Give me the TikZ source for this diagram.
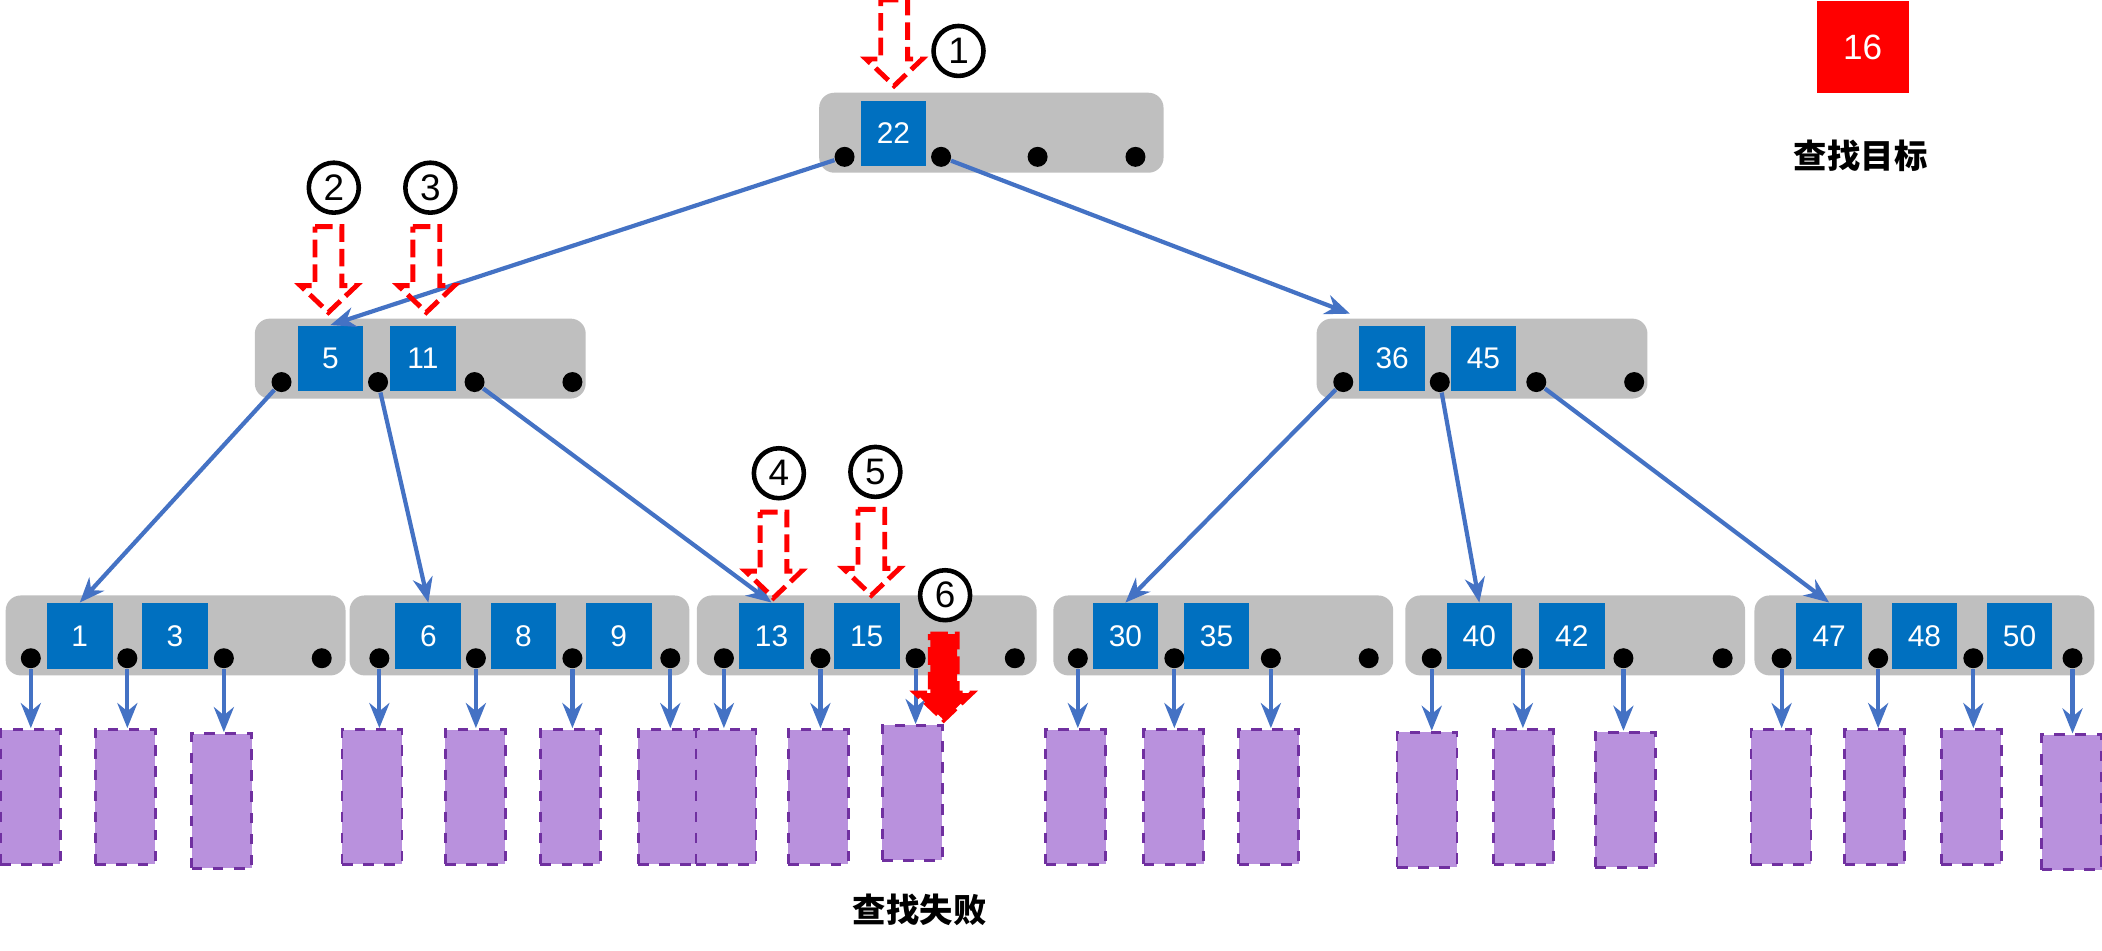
\documentclass[tikz,border=0pt]{standalone}
\usepackage{fontspec}
\setmainfont{Liberation Sans}
\newfontfamily\cjk{Noto Sans CJK SC}
\usetikzlibrary{arrows.meta}
\definecolor{keyblue}{HTML}{0070C0}
\definecolor{linkblue}{HTML}{4472C4}
\definecolor{pagegray}{HTML}{BFBFBF}
\definecolor{leafpurple}{HTML}{B991DD}
\definecolor{leafedge}{HTML}{7030A0}
\tikzset{
  page/.style={fill=pagegray, rounded corners=0.15cm, minimum width=#1, minimum height=0.8cm, inner sep=0pt},
  page/.default=3.4cm,
  key/.style={fill=keyblue, text=white, minimum size=0.657cm, inner sep=0pt, font=\fontsize{8.5}{9}\selectfont},
  dot/.style={circle, fill=black, minimum size=0.2cm, inner sep=0pt},
  leaf/.style={fill=leafpurple, draw=leafedge, dashed, line width=0.8pt, minimum width=0.6cm, minimum height=1.35cm, inner sep=0pt},
  link/.style={draw=linkblue, line width=1.2pt, -{Stealth[length=0.25cm,width=0.2cm]}},
  hollow/.style={draw=red, line width=1.4pt, dash pattern=on 5pt off 2pt, line join=miter},
  stepmark/.style={circle, draw, fill=white, line width=1.3pt, minimum size=0.5cm, inner sep=0pt, font=\fontsize{10.5}{11}\selectfont},
  pics/downarrow/.style={code={
    \path[hollow, #1] (-10,-32) -- (10,-32) -- (10,12) -- (21,12) -- (0,32) -- (-21,12) -- (-10,12) -- cycle;
  }}
}
\begin{document}
\begin{tikzpicture}[x=0.013406cm, y=-0.013406cm]
\useasboundingbox (0,0) rectangle (1568,709);
% pages
\node[page=3.445cm] (root) at (739.5,99) {};
\node[page=3.31cm] (pl) at (313.5,267.5) {};
\node[page=3.31cm] (pr) at (1105.5,267.5) {};
\foreach \x/\n in {131/la, 387.5/lb, 646.5/lc, 912.5/ld, 1175/le, 1435.5/lf}
  \node[page] (\n) at (\x,474) {};
% keys
\node[key] (k22) at (666.5,99.5) {22};
\foreach \x/\v in {246.5/5, 315.5/11, 1038.5/36, 1106.5/45}
  \node[key] (k\v) at (\x,267.5) {\v};
\foreach \x/\v in {59.5/1, 130.5/3, 319.5/6, 390.5/8, 461.5/9, 575.5/13, 646.5/15,
                   839.5/30, 907.5/35, 1103.5/40, 1172.5/42, 1364.5/47, 1435.5/48, 1506.5/50}
  \node[key] (k\v) at (\x,474.5) {\v};
% dots of the upper pages
\foreach \x [count=\i] in {630, 702, 774, 847}
  \node[dot] (r\i) at (\x,117) {};
\foreach \x [count=\i] in {210, 282, 354, 427}
  \node[dot] (pl\i) at (\x,285) {};
\foreach \x [count=\i] in {1002, 1074, 1146, 1219}
  \node[dot] (pr\i) at (\x,285) {};
\coordinate (rt) at (1007,234);
\draw[link] (r1) -- (k5.north);
\draw[link] (r2) -- (rt);
\draw[link] (pl1) -- (k1.north);
\draw[link] (pl2) -- (k6.north);
\draw[link] (pl3) -- (k13.north);
\draw[link] (pr1) -- (k30.north);
\draw[link] (pr2) -- (k40.north);
\draw[link] (pr3) -- (k47.north);
% leaves
\foreach \dx/\lx/\ly [count=\i] in {23/22.5/594.5, 95/93.5/594.5, 167/165.5/597.5,
    283/277.5/594.5, 355/354.5/594.5, 427/425.5/594.5, 500/498.5/594.5,
    540/541.5/594.5, 612/610.5/594.5, 683/680.5/591.5,
    804/802.5/594.5, 876/875.5/594.5, 948/946.5/594.5,
    1068/1064.5/596.5, 1136/1136.5/594.5, 1211/1212.5/596.5,
    1329/1328.5/594.5, 1401/1398.5/594.5, 1472/1470.5/594.5, 1546/1545.5/598.5} {
  \node[dot] (d\i) at (\dx,491) {};
  \node[leaf] (leaf\i) at (\lx,\ly) {};
  \draw[link] (d\i) -- (d\i |- leaf\i.north);
}
\foreach \x in {240, 757, 1021, 1285}
  \node[dot] at (\x,491) {};
% search steps
\pic at (667,32) {downarrow};
\pic at (245,201) {downarrow};
\pic at (318,201) {downarrow};
\pic at (577,414) {downarrow};
\pic at (650,412) {downarrow};
\pic at (704,505) {downarrow={fill=red}};
\node[stepmark] (s1) at (715,38) {1};
\node[stepmark] (s2) at (249,140) {2};
\node[stepmark] (s3) at (321,140) {3};
\node[stepmark] (s4) at (581,353) {4};
\node[stepmark] (s5) at (653,352) {5};
\node[stepmark] (s6) at (705,444) {6};
% target
\node[fill=red, text=white, minimum size=0.92cm, inner sep=0pt, font=\fontsize{10}{11}\selectfont] (goal) at (1389.5,35) {16};
\node[font=\cjk\bfseries\fontsize{9.5}{11}\selectfont] (goallabel) at (1388,116) {查找目标};
\node[font=\cjk\bfseries\fontsize{9.5}{11}\selectfont] (fail) at (686,679) {查找失败};
\end{tikzpicture}
\end{document}
